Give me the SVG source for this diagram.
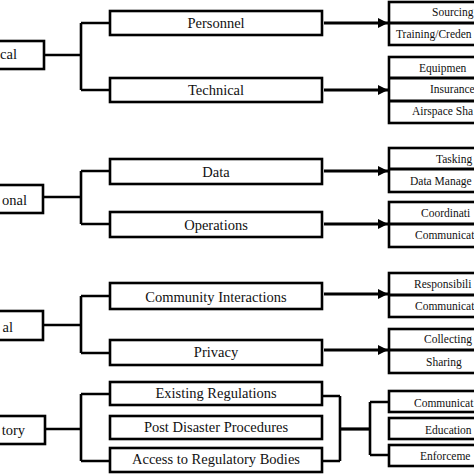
<svg xmlns="http://www.w3.org/2000/svg" width="474" height="474" viewBox="0 0 474 474">
<style>
.box{fill:#fff;stroke:#000;stroke-width:2.6}
.div{stroke:#000;stroke-width:3}
.ln{fill:none;stroke:#000;stroke-width:2.6}
.arr{fill:none;stroke:#000;stroke-width:3.2}
.t{font-family:"Liberation Serif","Times New Roman",serif;font-size:14.5px;fill:#111}
.tm{text-anchor:middle}
.te{text-anchor:end}
.s{font-family:"Liberation Serif","Times New Roman",serif;font-size:11.5px;fill:#111}
</style>
<defs>
<marker id="ah" markerWidth="10" markerHeight="10" refX="10" refY="5" orient="auto" markerUnits="userSpaceOnUse">
<path d="M0,0 L10,5 L0,10 Z" fill="#000"/>
</marker>
</defs>
<rect width="474" height="474" fill="#fff"/>

<g id="connectors">
<path class="ln" d="M44,55 H81 M81,23 V90 M81,23 H110 M81,90 H110"/>
<path class="ln" d="M43,197 H81 M81,171 V224 M81,171 H110 M81,224 H110"/>
<path class="ln" d="M43,325 H81 M81,296 V353 M81,296 H110 M81,353 H110"/>
<path class="ln" d="M45,429 H81 M81,394 V461 M81,394 H110 M81,461 H110"/>
<path class="ln" d="M322,396 H340 M340,396 V461 M322,461 H340"/>
<path class="arr" d="M340,429 H370"/>
<path class="ln" d="M370,402 V455 M370,402 H388 M370,455 H388"/>
<path class="arr" d="M324,23 H388" marker-end="url(#ah)"/>
<path class="arr" d="M324,90 H388" marker-end="url(#ah)"/>
<path class="arr" d="M324,171 H388" marker-end="url(#ah)"/>
<path class="arr" d="M324,224 H388" marker-end="url(#ah)"/>
<path class="arr" d="M324,294 H388" marker-end="url(#ah)"/>
<path class="arr" d="M324,350 H388" marker-end="url(#ah)"/>
</g>

<g id="node-cal"><rect class="box" x="-4" y="41" width="48" height="28"/><text class="t te" x="17" y="59">cal</text></g>
<g id="node-onal"><rect class="box" x="-4" y="185" width="47" height="28"/><text class="t te" x="27" y="205">onal</text></g>
<g id="node-al"><rect class="box" x="-4" y="311" width="47" height="29"/><text class="t te" x="13" y="332">al</text></g>
<g id="node-tory"><rect class="box" x="-4" y="416" width="49" height="28"/><text class="t te" x="25" y="435">tory</text></g>

<g id="node-personnel"><rect class="box" x="110" y="11" width="212" height="24"/><text class="t tm" x="216" y="28">Personnel</text></g>
<g id="node-technical"><rect class="box" x="110" y="78" width="212" height="24"/><text class="t tm" x="216" y="95">Technical</text></g>
<g id="node-data"><rect class="box" x="110" y="159" width="212" height="25"/><text class="t tm" x="216" y="177">Data</text></g>
<g id="node-operations"><rect class="box" x="110" y="212" width="212" height="25"/><text class="t tm" x="216" y="230">Operations</text></g>
<g id="node-community"><rect class="box" x="110" y="283" width="212" height="26"/><text class="t tm" x="216" y="302">Community Interactions</text></g>
<g id="node-privacy"><rect class="box" x="110" y="340" width="212" height="25"/><text class="t tm" x="216" y="357">Privacy</text></g>
<g id="node-existing"><rect class="box" x="110" y="382" width="212" height="23"/><text class="t tm" x="216" y="398">Existing Regulations</text></g>
<g id="node-postdisaster"><rect class="box" x="110" y="416" width="212" height="23"/><text class="t tm" x="216" y="432">Post Disaster Procedures</text></g>
<g id="node-access"><rect class="box" x="110" y="448" width="212" height="24"/><text class="t tm" x="216" y="464">Access to Regulatory Bodies</text></g>

<g id="node-personnel-items">
<rect class="box" x="389" y="2" width="90" height="43"/><line class="div" x1="389" y1="23" x2="479" y2="23"/>
<text class="s" x="432" y="16">Sourcing</text><text class="s" x="396" y="38">Training/Creden</text>
</g>
<g id="node-technical-items">
<rect class="box" x="389" y="57" width="90" height="66"/><line class="div" x1="389" y1="78" x2="479" y2="78"/><line class="div" x1="389" y1="101" x2="479" y2="101"/>
<text class="s" x="419" y="72">Equipmen</text><text class="s" x="430" y="93">Insurance</text><text class="s" x="412" y="115">Airspace Sha</text>
</g>
<g id="node-data-items">
<rect class="box" x="389" y="148" width="90" height="44"/><line class="div" x1="389" y1="169" x2="479" y2="169"/>
<text class="s" x="436" y="163">Tasking</text><text class="s" x="410" y="185">Data Manage</text>
</g>
<g id="node-operations-items">
<rect class="box" x="389" y="202" width="90" height="45"/><line class="div" x1="389" y1="224" x2="479" y2="224"/>
<text class="s" x="421" y="217">Coordinati</text><text class="s" x="415" y="239">Communicat</text>
</g>
<g id="node-community-items">
<rect class="box" x="389" y="273" width="90" height="44"/><line class="div" x1="389" y1="295" x2="479" y2="295"/>
<text class="s" x="414" y="288">Responsibili</text><text class="s" x="415" y="310">Communicat</text>
</g>
<g id="node-privacy-items">
<rect class="box" x="389" y="329" width="90" height="44"/><line class="div" x1="389" y1="350" x2="479" y2="350"/>
<text class="s" x="424" y="343">Collecting</text><text class="s" x="426" y="366">Sharing</text>
</g>
<g id="node-communication"><rect class="box" x="389" y="391" width="90" height="21"/><text class="s" x="414" y="407">Communicat</text></g>
<g id="node-education"><rect class="box" x="389" y="418" width="90" height="21"/><text class="s" x="425" y="434">Education</text></g>
<g id="node-enforcement"><rect class="box" x="389" y="445" width="90" height="21"/><text class="s" x="420" y="460">Enforceme</text></g>
</svg>
